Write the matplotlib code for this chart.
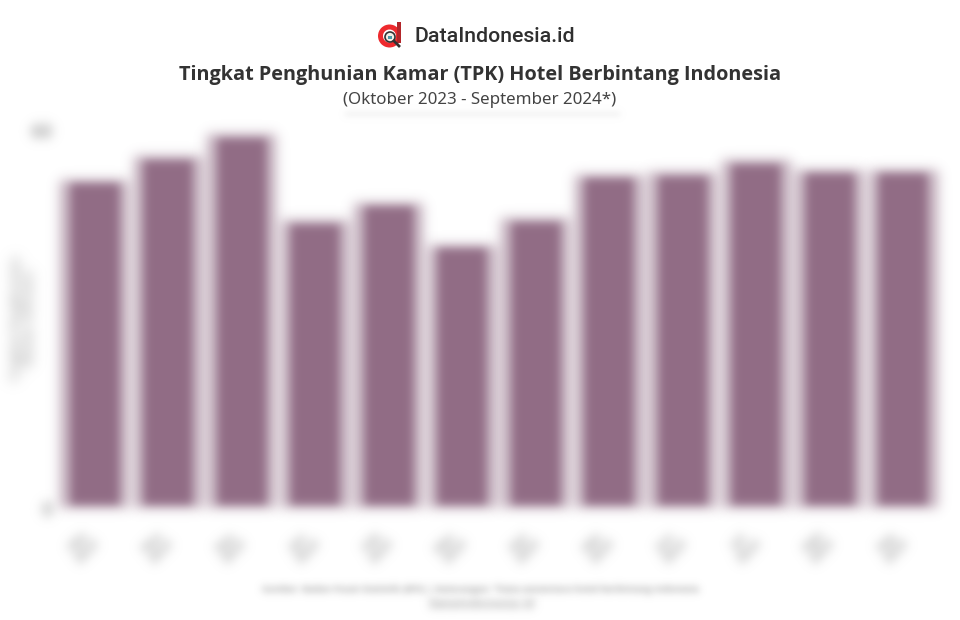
import matplotlib
matplotlib.use("Agg")
import numpy as np
import matplotlib.pyplot as plt
from matplotlib.colors import to_rgb
from matplotlib.patches import Circle, Wedge, Rectangle
from matplotlib.lines import Line2D
from matplotlib.transforms import ScaledTranslation

months = ["Okt\n2023", "Nov\n2023", "Des\n2023", "Jan\n2024", "Feb\n2024", "Mar\n2024",
          "Apr\n2024", "Mei\n2024", "Jun\n2024", "Jul\n2024", "Agu\n2024", "Sep\n2024"]
tpk = [52.1, 55.8, 59.3, 45.7, 48.4, 41.8, 46.0, 52.9, 53.3, 55.2, 53.7, 53.7]
y_ticks = [0, 60]
title = "Tingkat Penghunian Kamar (TPK) Hotel Berbintang Indonesia"
subtitle = "(Oktober 2023 - September 2024*)"
brand = "DataIndonesia.id"
y_label = "Tingkat Penghunian\nKamar (Persen)"
source = "Sumber: Badan Pusat Statistik (BPS) | Keterangan: *Data sementara hotel berbintang Indonesia"
source2 = "DataIndonesia.id"


class Blur:
    """agg filter: gaussian blur of the artist's alpha, kept in one colour."""
    def __init__(self, sigma, color, gain=1.0):
        self.sigma, self.rgb, self.gain = sigma, to_rgb(color), gain

    def __call__(self, im, dpi):
        pad = int(3 * self.sigma) + 1
        a = np.pad(im[:, :, 3], pad)
        t = np.arange(-pad, pad + 1)
        k = np.exp(-0.5 * (t / self.sigma) ** 2)
        k /= k.sum()
        a = np.apply_along_axis(lambda r: np.convolve(r, k, mode="same"), 0, a)
        a = np.apply_along_axis(lambda r: np.convolve(r, k, mode="same"), 1, a)
        out = np.zeros(a.shape + (4,))
        out[:, :, :3] = self.rgb
        out[:, :, 3] = np.clip(a * self.gain, 0, 1)
        return out, -pad, -pad


W, H = 960, 620
fig = plt.figure(figsize=(W / 100, H / 100), dpi=100, facecolor="white")
ax = fig.add_axes([58 / W, (H - 508) / H, 882 / W, 378 / H])
ax.set_xlim(-0.5, 11.5)
ax.set_ylim(0, 60)
ax.patch.set_alpha(0)
for s in ax.spines.values():
    s.set_visible(False)

BAR = "#916c85"
x = list(range(len(tpk)))
INSET = 0.7  # the dark core sits inside the soft edge of each bar

pale = ax.bar(x, tpk, width=0.94, color=BAR, zorder=2, clip_on=False)
for b in pale:
    b.set_agg_filter(Blur(6, BAR, gain=0.55))
core = ax.bar(x, [v - 2 * INSET for v in tpk], bottom=INSET, width=0.65, color=BAR, zorder=3, clip_on=False)
for b in core:
    b.set_agg_filter(Blur(4.5, BAR))

GREY = "#aaaaaa"
ax.set_xticks(x, months)
ax.set_yticks(y_ticks, [str(v) for v in y_ticks])
ax.tick_params(length=0)
ax.tick_params(axis="x", pad=14)
ax.tick_params(axis="y", pad=4)
shift = ScaledTranslation(-12 / 100, 0, fig.dpi_scale_trans)
for t in ax.get_xticklabels():
    t.set(rotation=45, ha="center", fontsize=9, fontweight="bold", color=GREY,
          family="Open Sans", linespacing=1.0, agg_filter=Blur(5.5, GREY))
    t.set_transform(t.get_transform() + shift)
for t in ax.get_yticklabels():
    t.set(fontsize=14, fontweight="bold", color=GREY, family="Open Sans", agg_filter=Blur(5.5, GREY))

blurred = dict(color=GREY, family="Open Sans", fontweight="bold", ha="center", va="center")
fig.text(23 / W, 1 - 318 / H, y_label, rotation=90, fontsize=9, linespacing=1.0, agg_filter=Blur(6.5, GREY), **blurred)
fig.text(480 / W, 1 - 589 / H, source, fontsize=6.6, agg_filter=Blur(4, "#999999"), **blurred)
fig.text(482 / W, 1 - 604 / H, source2, fontsize=9, agg_filter=Blur(4.5, GREY), **blurred)

fig.text(480 / W, 1 - 75 / H, title, ha="center", va="center", fontsize=14.27, fontweight="bold",
         color="#333333", family="Open Sans")
fig.text(480 / W, 1 - 100 / H, subtitle, ha="center", va="center", fontsize=12.2, color="#444444",
         family="Noto Sans")
fig.text(415 / W, 1 - 37 / H, brand, ha="left", va="center", fontsize=15.3, fontweight="medium",
         color="#2f2f2f", family="Roboto")

# soft band under the subtitle
band = Rectangle((345 / W, 1 - 116 / H), 275 / W, 4 / H, transform=fig.transFigure,
                 facecolor="#e8e8e8", edgecolor="none")
band.set_agg_filter(Blur(3, "#e8e8e8", gain=0.7))
fig.add_artist(band)

# logo, drawn in pixel coordinates
logo = fig.add_axes([370 / W, 1 - 52 / H, 40 / W, 40 / H])
logo.set_xlim(370, 410)
logo.set_ylim(52, 12)
logo.axis("off")
logo.add_patch(Wedge((389.5, 36), 11.5, 0, 360, width=5, facecolor="#ee2a2e", edgecolor="none"))
logo.add_patch(Rectangle((396.5, 21.5), 4.5, 21, facecolor="#b3262a", edgecolor="none"))
logo.add_patch(Circle((390, 37), 5, facecolor="#f3efe6", edgecolor="#333333", lw=1.2))
logo.add_patch(Rectangle((388, 36), 4, 3, facecolor="#4a9aa8", edgecolor="none"))
logo.add_line(Line2D([394, 399], [41, 46], color="#333333", lw=2))

fig.savefig("out.png", dpi=100, facecolor="white")
